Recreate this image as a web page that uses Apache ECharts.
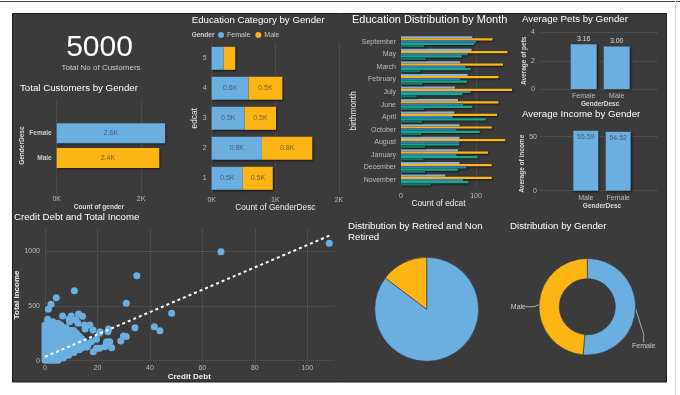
<!DOCTYPE html>
<html><head><meta charset="utf-8">
<script src="https://cdn.jsdelivr.net/npm/echarts@6/dist/echarts.min.js"></script>
<style>html,body{margin:0;padding:0;background:#fff}#c{width:680px;height:395px}</style>
</head><body><div id="c"></div>
<script>
// ---------- data ----------
const totalCustomers = 5000;
const genderCats = ['Female', 'Male'];
const genderCounts = [2570, 2430];
const edcatCats = ['1', '2', '3', '4', '5'];
const edcatFemale = [490, 790, 520, 580, 190];
const edcatMale = [470, 790, 490, 530, 180];
const months = ['September','May','March','February','July','June','April','October','August','January','December','November'];
const monthEd1 = [95, 94, 79, 89, 72, 76, 71, 78, 78, 76, 78, 59];
const monthEd2 = [122, 142, 136, 130, 148, 130, 128, 121, 139, 116, 121, 121];
const monthEd3 = [100, 89, 86, 79, 93, 83, 69, 74, 78, 74, 87, 83];
const monthEd4 = [98, 81, 93, 88, 82, 95, 113, 105, 78, 102, 76, 90];
const monthEd5 = [31, 33, 26, 29, 21, 31, 28, 27, 32, 30, 32, 40];
const petsCats = ['Female', 'Male'];
const petsVals = [3.16, 3.00];
const incomeCats = ['Male', 'Female'];
const incomeVals = [55.59, 54.52];
const retiredCats = ['Non Retired', 'Retired'];
const retiredVals = [4265, 735];
const donutCats = ['Female', 'Male'];
const donutVals = [2570, 2430];
const trendLine = [[0, 36], [109, 1146]];
const scatterDense = [
 [0,5],[1,5],[2,5],[3,5],[4,5],[5,5],
 [0,25],[1,25],[2,25],[3,25],[4,25],[5,25],[6,25],[7,25],
 [0,50],[1,50],[2,50],[3,50],[4,50],[5,50],[6,50],[7,50],[8,50],[9,50],
 [0,75],[1,75],[2,75],[3,75],[4,75],[5,75],[6,75],[7,75],[8,75],[9,75],[10,75],[11,75],
 [0,100],[1,100],[2,100],[3,100],[4,100],[5,100],[6,100],[7,100],[8,100],[9,100],[10,100],[11,100],[12,100],[13,100],
 [0,125],[1,125],[2,125],[3,125],[4,125],[5,125],[6,125],[7,125],[8,125],[9,125],[10,125],[11,125],[12,125],[13,125],[14,125],[15,125],[16,125],
 [0,150],[1,150],[2,150],[3,150],[4,150],[5,150],[6,150],[7,150],[8,150],[9,150],[10,150],[11,150],[12,150],[13,150],[14,150],[15,150],[16,150],
 [0,175],[1,175],[2,175],[3,175],[4,175],[5,175],[6,175],[7,175],[8,175],[9,175],[10,175],[11,175],[12,175],[13,175],[14,175],[15,175],
 [0,200],[1,200],[2,200],[3,200],[4,200],[5,200],[6,200],[7,200],[8,200],[9,200],[10,200],[11,200],[12,200],[13,200],[14,200],
 [0,225],[1,225],[2,225],[3,225],[4,225],[5,225],[6,225],[7,225],[8,225],[9,225],[10,225],[11,225],[12,225],[13,225],
 [0,250],[1,250],[2,250],[3,250],[4,250],[5,250],[6,250],[7,250],[8,250],[9,250],[10,250],[11,250],[12,250],
 [0,275],[1,275],[2,275],[3,275],[4,275],[5,275],[6,275],[7,275],[8,275],[9,275],[10,275],[11,275],
 [0,300],[1,300],[2,300],[3,300],[4,300],[5,300],[6,300],[7,300],[8,300],
 [0,325],[2,325],[4,325],[6,325]
];
const scatterSparse = [
 [108.4,1070],[67.1,994],[35,775],[31,523],[48.3,432],[41.7,310],[43.8,273],[34.3,301],
 [29.9,225],[28.9,180],[31,220],[25.4,119],[23.5,173],[21,264],[24.2,289],[11.2,638],
 [4.3,575],[2.3,515],[1.3,470],[6.7,407],[10,407],[12.8,425],[14.3,405],[11.8,371],
 [9.2,380],[1,378],[3,356],[5,341],[9.4,356],[12.6,341],[15.1,325],[17.1,325],[18.3,280],
 [15.3,289],[20.8,250],[24,264],[17.7,173],[19.6,195],[23.4,158],[24.7,173],[20.8,113],
 [22.8,128],[19.6,113],[16.4,143],[13.8,113],[18.4,82]
];

// ---------- style ----------
const BLUE = '#6BAEE0', YEL = '#FDB515';
const MONTH_COLORS = ['#8DB6DD', '#FDB515', '#2D7FC6', '#17A98A', '#13786A'];
const FONT = 'Liberation Sans, Arial, sans-serif';
const LBL = '#bdbdbd';
const SPLIT = { show: true, lineStyle: { type: 'dotted', color: '#5c5c5c', width: 1 } };
const SHADOW = { shadowColor: 'rgba(0,0,0,0.6)', shadowBlur: 2, shadowOffsetX: 1, shadowOffsetY: 1 };
const kfmt = v => (v / 1000).toFixed(0) + 'K';
const titleStyle = { color: '#ffffff', fontSize: 9.7, fontWeight: 'normal', fontFamily: FONT };
function T(text, left, top, extra) {
  return { text, left, top, padding: 0, textStyle: Object.assign({}, titleStyle, extra || {}) };
}
const hidden = { show: false };
const NAME = { color: '#eeeeee', fontSize: 8.3 };

const option = {
  animation: false,
  backgroundColor: '#ffffff',
  textStyle: { fontFamily: FONT },
  graphic: { elements: [
    { type: 'line', z: -10, shape: { x1: 0, y1: 1.5, x2: 680, y2: 1.5 }, style: { stroke: '#444', lineWidth: 1 } },
    { type: 'line', z: -10, shape: { x1: 675.5, y1: 0, x2: 675.5, y2: 395 }, style: { stroke: '#d8d8d8', lineWidth: 1 } },
    { type: 'rect', z: -10, shape: { x: 12.5, y: 13.5, width: 654, height: 368.5 }, style: { fill: '#3b3b3b', stroke: '#1c1c1c', lineWidth: 1 } },
    { type: 'text', z: 10, style: { text: String(totalCustomers), x: 99.5, y: 47.5, textAlign: 'center', textVerticalAlign: 'middle', fill: '#ffffff', font: '30px ' + FONT } },
    { type: 'text', z: 10, style: { text: 'Total No of Customers', x: 101, y: 67.5, textAlign: 'center', textVerticalAlign: 'middle', fill: '#cccccc', font: '8px ' + FONT } }
  ] },
  title: [
    T('Total Customers by Gender', 20, 83.5),
    T('Education Category by Gender', 191.7, 15),
    T('Education Distribution by Month', 352, 14, { fontSize: 11 }),
    T('Average Pets by Gender', 522, 14.5),
    T('Average Income by Gender', 522, 109),
    T('Credit Debt and Total Income', 14, 212),
    T('Distribution by Retired and Non\nRetired', 348, 220.5, { lineHeight: 11 }),
    T('Distribution by Gender', 510, 221),
    T('Gender', 191.7, 32, { fontSize: 6.5, fontWeight: 'bold', color: '#cccccc' })
  ],
  legend: {
    data: ['Female', 'Male'], left: 218, top: 31.5, padding: 0, icon: 'circle',
    itemWidth: 6, itemHeight: 6, itemGap: 5,
    textStyle: { fontSize: 7, color: '#cccccc', fontFamily: FONT, padding: [0, 0, 0, -2] }
  },
  grid: [
    { left: 56.7, top: 100, width: 84.4, height: 93 },            // 0 gender frame
    { left: 56.7, top: 120.8, width: 84.4, height: 49.7 },        // 1 gender bars
    { left: 211.7, top: 43.3, width: 127.3, height: 150 },        // 2 edcat
    { left: 401, top: 35.4, width: 75, height: 150.9 },           // 3 months
    { left: 540, top: 32.3, width: 118, height: 57 },             // 4 pets frame
    { left: 567.2, top: 32.3, width: 66, height: 57 },            // 5 pets bars
    { left: 540, top: 136.7, width: 118, height: 54 },            // 6 income frame
    { left: 569.6, top: 136.7, width: 64.8, height: 54 },         // 7 income bars
    { left: 45, top: 229.1, width: 288.5, height: 131.6 }         // 8 scatter
  ],
  xAxis: [
    { gridIndex: 0, type: 'value', min: 0, max: 2000, interval: 2000, axisLine: hidden, axisTick: hidden,
      splitLine: SPLIT, axisLabel: { color: LBL, fontSize: 7, margin: 3, formatter: kfmt },
      name: 'Count of gender', nameLocation: 'middle', nameGap: 10,
      nameTextStyle: { color: '#dddddd', fontSize: 6.5, fontWeight: 'bold' } },
    { gridIndex: 1, type: 'value', min: 0, max: 2000, show: false },
    { gridIndex: 2, type: 'value', min: 0, max: 2000, interval: 1000, axisLine: hidden, axisTick: hidden,
      splitLine: SPLIT, axisLabel: { color: LBL, fontSize: 7, margin: 3, formatter: kfmt },
      name: 'Count of GenderDesc', nameLocation: 'middle', nameGap: 7.5,
      nameTextStyle: Object.assign({ verticalAlign: 'top' }, NAME) },
    { gridIndex: 3, type: 'value', min: 0, max: 100, interval: 100, axisLine: hidden, axisTick: hidden,
      splitLine: SPLIT, axisLabel: { color: LBL, fontSize: 7, margin: 6 },
      name: 'Count of edcat', nameLocation: 'middle', nameGap: 13.5,
      nameTextStyle: Object.assign({ verticalAlign: 'top' }, NAME) },
    { gridIndex: 4, type: 'value', min: 0, max: 1, show: false },
    { gridIndex: 5, type: 'category', data: petsCats, axisLine: hidden, axisTick: hidden,
      axisLabel: { color: LBL, fontSize: 7, margin: 3 },
      name: 'GenderDesc', nameLocation: 'middle', nameGap: 11,
      nameTextStyle: { color: '#dddddd', fontSize: 6.5, fontWeight: 'bold', verticalAlign: 'top' } },
    { gridIndex: 6, type: 'value', min: 0, max: 1, show: false },
    { gridIndex: 7, type: 'category', data: incomeCats, axisLine: hidden, axisTick: hidden,
      axisLabel: { color: LBL, fontSize: 7, margin: 4 },
      name: 'GenderDesc', nameLocation: 'middle', nameGap: 11,
      nameTextStyle: { color: '#dddddd', fontSize: 6.5, fontWeight: 'bold', verticalAlign: 'top' } },
    { gridIndex: 8, type: 'value', min: 0, max: 110, interval: 20, axisLine: hidden, axisTick: hidden,
      splitLine: { show: true, lineStyle: { type: 'dotted', width: 1, color: ['#5c5c5c','#5c5c5c','#5c5c5c','#5c5c5c','#5c5c5c','#5c5c5c','rgba(0,0,0,0)'] } },
      axisLabel: { color: LBL, fontSize: 7, margin: 4, showMaxLabel: false, formatter: v => String(v) },
      name: 'Credit Debt', nameLocation: 'middle', nameGap: 11.5,
      nameTextStyle: { color: '#eeeeee', fontSize: 8, fontWeight: 'bold', verticalAlign: 'top' } }
  ],
  yAxis: [
    { gridIndex: 0, type: 'value', min: 0, max: 1, show: false },
    { gridIndex: 1, type: 'category', data: genderCats, inverse: true, axisLine: hidden, axisTick: hidden,
      axisLabel: { color: '#cccccc', fontSize: 6.5, fontWeight: 'bold', margin: 5 },
      name: 'GenderDesc', nameLocation: 'middle', nameGap: 31, nameRotate: 90,
      nameTextStyle: { color: '#dddddd', fontSize: 6.5, fontWeight: 'bold' } },
    { gridIndex: 2, type: 'category', data: edcatCats, axisLine: hidden, axisTick: hidden,
      axisLabel: { color: LBL, fontSize: 7, margin: 5 },
      name: 'edcat', nameLocation: 'middle', nameGap: 11, nameRotate: 90,
      nameTextStyle: NAME },
    { gridIndex: 3, type: 'category', data: months, inverse: true, axisLine: hidden, axisTick: hidden,
      axisLabel: { color: LBL, fontSize: 7, margin: 5 },
      name: 'birthmonth', nameLocation: 'middle', nameGap: 40, nameRotate: 90,
      nameTextStyle: NAME },
    { gridIndex: 4, type: 'value', min: 0, max: 4, interval: 2, axisLine: hidden, axisTick: hidden,
      splitLine: SPLIT, axisLabel: { color: LBL, fontSize: 7, margin: 5 },
      name: 'Average of pets', nameLocation: 'middle', nameGap: 10, nameRotate: 90,
      nameTextStyle: { color: '#dddddd', fontSize: 6.5, fontWeight: 'bold' } },
    { gridIndex: 5, type: 'value', min: 0, max: 4, show: false },
    { gridIndex: 6, type: 'value', min: 0, max: 50, interval: 50, axisLine: hidden, axisTick: hidden,
      splitLine: SPLIT, axisLabel: { color: LBL, fontSize: 7, margin: 3 },
      name: 'Average of income', nameLocation: 'middle', nameGap: 10, nameRotate: 90,
      nameTextStyle: { color: '#dddddd', fontSize: 6.5, fontWeight: 'bold' } },
    { gridIndex: 7, type: 'value', min: 0, max: 50, show: false },
    { gridIndex: 8, type: 'value', min: 0, max: 1200, interval: 500, axisLine: hidden, axisTick: hidden,
      splitLine: { show: true, lineStyle: { type: 'dotted', width: 1, color: ['#5c5c5c','#5c5c5c','#5c5c5c','rgba(0,0,0,0)'] } },
      axisLabel: { color: LBL, fontSize: 7, margin: 5, showMaxLabel: false, formatter: v => String(v) },
      name: 'Total Income', nameLocation: 'middle', nameGap: 21, nameRotate: 90,
      nameTextStyle: { color: '#eeeeee', fontSize: 8, fontWeight: 'bold' } }
  ],
  series: [
    { type: 'bar', name: 'gender', xAxisIndex: 1, yAxisIndex: 1, barWidth: 20, clip: false,
      data: genderCounts.map((v, i) => ({ value: v, itemStyle: Object.assign({ color: i === 0 ? BLUE : YEL }, SHADOW) })),
      label: { show: true, position: 'inside', color: 'rgba(50,50,50,0.65)', fontSize: 7, formatter: p => (p.value / 1000).toFixed(1) + 'K' } },
    { type: 'bar', name: 'Female', xAxisIndex: 2, yAxisIndex: 2, stack: 'ed', barWidth: 23, clip: false,
      data: edcatFemale, itemStyle: Object.assign({ color: BLUE }, SHADOW),
      label: { show: true, position: 'inside', color: 'rgba(50,50,50,0.65)', fontSize: 7, formatter: p => p.value < 300 ? '' : (p.value / 1000).toFixed(1) + 'K' } },
    { type: 'bar', name: 'Male', xAxisIndex: 2, yAxisIndex: 2, stack: 'ed', barWidth: 23, clip: false,
      data: edcatMale, itemStyle: Object.assign({ color: YEL }, SHADOW),
      label: { show: true, position: 'inside', color: 'rgba(50,50,50,0.65)', fontSize: 7, formatter: p => p.value < 300 ? '' : (p.value / 1000).toFixed(1) + 'K' } },
    ...[monthEd1, monthEd2, monthEd3, monthEd4, monthEd5].map((d, i) => ({
      type: 'bar', name: 'edcat ' + (i + 1), xAxisIndex: 3, yAxisIndex: 3, data: d, clip: false,
      barGap: '0%', barCategoryGap: '12%', itemStyle: Object.assign({ color: MONTH_COLORS[i] }, SHADOW)
    })),
    { type: 'bar', name: 'pets', xAxisIndex: 5, yAxisIndex: 5, data: petsVals, barWidth: 26, clip: false,
      itemStyle: Object.assign({ color: BLUE }, SHADOW),
      label: { show: true, position: 'top', distance: 2, color: '#dddddd', fontSize: 7, formatter: p => p.value.toFixed(2) } },
    { type: 'bar', name: 'income', xAxisIndex: 7, yAxisIndex: 7, data: incomeVals, barWidth: 25, clip: false,
      itemStyle: Object.assign({ color: BLUE }, SHADOW),
      label: { show: true, position: 'insideTop', distance: 3, color: 'rgba(50,50,50,0.65)', fontSize: 7, formatter: p => p.value.toFixed(2) } },
    { type: 'scatter', name: 'dense', xAxisIndex: 8, yAxisIndex: 8, data: scatterDense, symbolSize: 7, clip: false,
      itemStyle: { color: BLUE, opacity: 1 } },
    { type: 'scatter', name: 'sparse', xAxisIndex: 8, yAxisIndex: 8, data: scatterSparse, symbolSize: 7, clip: false,
      itemStyle: { color: BLUE, opacity: 1 } },
    { type: 'line', name: 'trend', xAxisIndex: 8, yAxisIndex: 8, data: trendLine, symbol: 'none', z: 5, clip: false,
      lineStyle: { color: '#ffffff', width: 2, type: [3, 3] } },
    { type: 'pie', name: 'retired', center: [426.7, 309.3], radius: 52, startAngle: 90,
      data: retiredCats.map((n, i) => ({ name: n, value: retiredVals[i], itemStyle: { color: i === 0 ? BLUE : YEL } })),
      label: { show: false }, labelLine: { show: false }, itemStyle: { borderColor: '#2a3440', borderWidth: 0.6 } },
    { type: 'pie', name: 'gender donut', center: [587.3, 306.7], radius: [28, 48.3], startAngle: 90,
      data: donutCats.map((n, i) => ({ name: n, value: donutVals[i], itemStyle: { color: i === 0 ? BLUE : YEL } })),
      itemStyle: { borderColor: '#2a3440', borderWidth: 0.6 },
      label: { show: true, color: '#cccccc', fontSize: 7, fontFamily: FONT, overflow: 'none', width: 40 },
      labelLine: { show: true, length: 6, length2: 8, lineStyle: { color: '#aaaaaa', width: 1 } },
      labelLayout: p => p.dataIndex === 0
        ? { x: 632, y: 345.7, align: 'left', verticalAlign: 'middle' }
        : { x: 526, y: 306.7, align: 'right', verticalAlign: 'middle' } }
  ]
};
const chart = echarts.init(document.getElementById('c'), null, { renderer: 'canvas' });
chart.setOption(option);
</script></body></html>
